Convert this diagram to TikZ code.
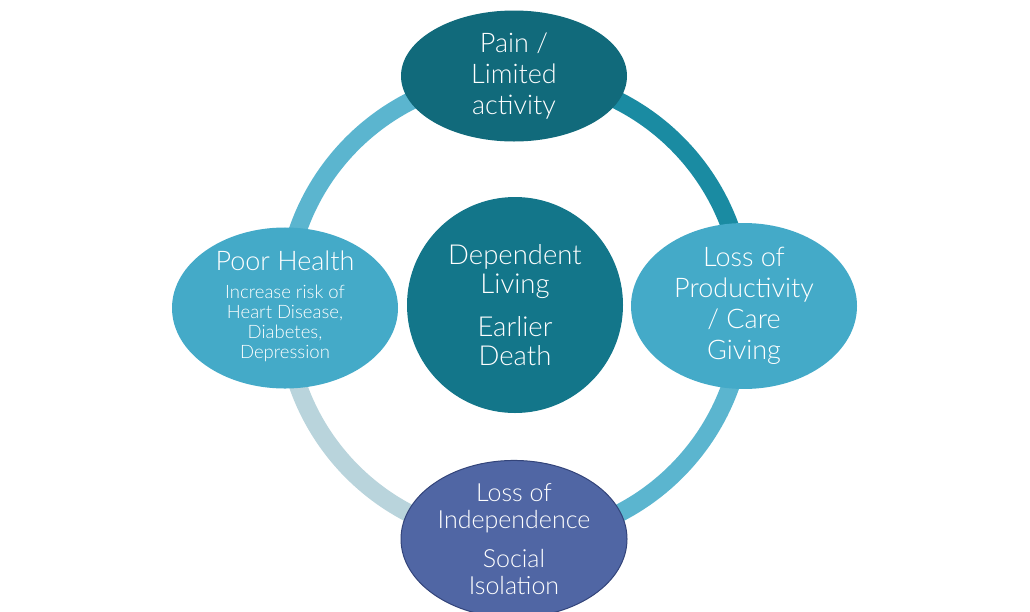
\documentclass[tikz,border=0pt]{standalone}
\usepackage{fontspec}
\IfFontExistsTF{Lato Light}{\setmainfont{Lato Light}}{\setmainfont{Lato}}
\usetikzlibrary{shapes.geometric}
\definecolor{teal dark}{HTML}{116A7B}
\definecolor{teal mid}{HTML}{13768A}
\definecolor{arc dark}{HTML}{1A8BA2}
\definecolor{sky}{HTML}{44AAC8}
\definecolor{arc light}{HTML}{5BB5CF}
\definecolor{arc pale}{HTML}{B9D4DC}
\definecolor{slate}{HTML}{5066A4}
\definecolor{slate edge}{HTML}{33447A}
\pgfdeclarelayer{ring}
\pgfsetlayers{ring,main}

\begin{document}
\begin{tikzpicture}[x=1pt,y=-1pt,
bubble/.style={ellipse,minimum width=226pt,minimum height=131pt,inner sep=0pt,
  text=white,align=center,font=\fontsize{27}{31}\selectfont},
link/.style={line width=18pt,bend left=45}]
\useasboundingbox (0,0) rectangle (1030,611);
% outer cycle
\node[bubble,fill=teal dark](pain) at (514,76){Pain /\\Limited\\activity};
\node[bubble,fill=sky](prod) at (744,306){Loss of\\Productivity\\/ Care\\Giving};
\node[bubble,fill=slate,draw=slate edge,line width=1pt,font=\fontsize{25}{27}\selectfont](indep) at (514,539)
{Loss of\\Independence\\[12pt]Social\\Isolation};
\node[bubble,fill=sky](health) at (285,308)
{Poor Health\\[13pt]{\fontsize{18.5}{20}\selectfont\begin{tabular}{@{}c@{}}Increase risk of\\Heart Disease,\\Diabetes,\\Depression\end{tabular}}};
% middle
\node[circle,minimum size=216pt,inner sep=0pt,fill=teal mid,text=white,align=center,
  font=\fontsize{27.5}{29}\selectfont](hub) at (515,305){Dependent\\Living\\[14pt]Earlier\\Death};
\begin{pgfonlayer}{ring}
\draw[link,arc dark](pain.center) to (prod.center);
\draw[link,arc light](prod.center) to (indep.center);
\draw[link,arc pale](indep.center) to (health.center);
\draw[link,arc light](health.center) to (pain.center);
\end{pgfonlayer}
\end{tikzpicture}
\end{document}
